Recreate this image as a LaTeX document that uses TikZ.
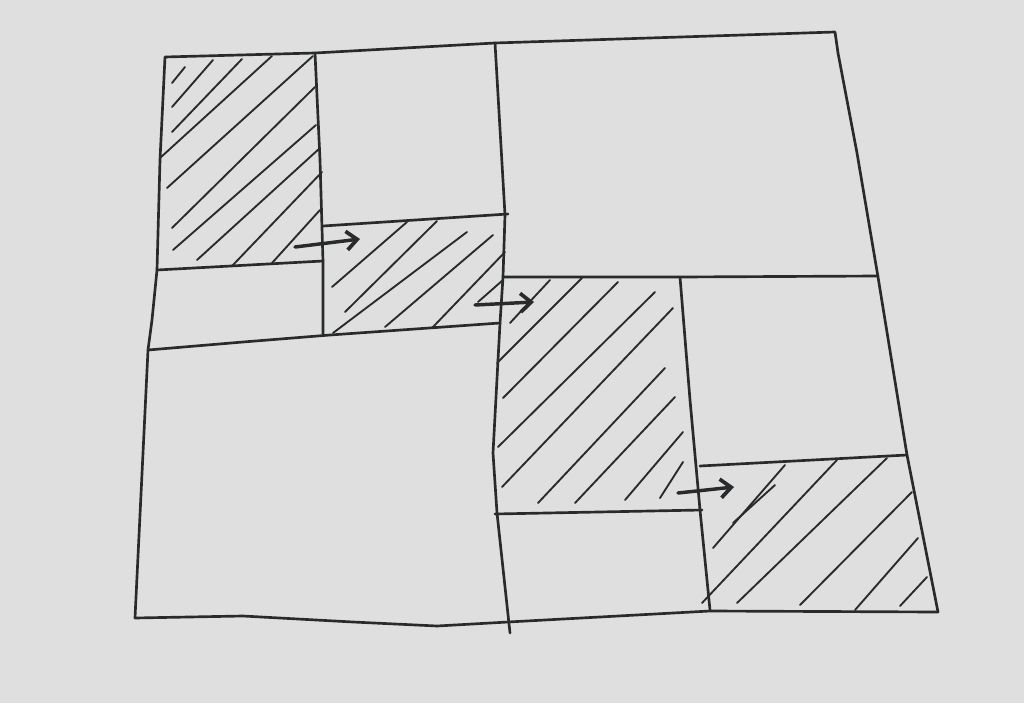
\documentclass[tikz,border=0pt]{standalone}
\usetikzlibrary{arrows.meta}
\definecolor{paper}{RGB}{222,223,222}
\definecolor{pencil}{RGB}{40,42,44}
\tikzset{every picture/.style={line width=0.75pt}}
\tikzset{
  sketch/.style={draw=pencil, line width=2pt, line join=round, line cap=round},
  hatch/.style={draw=pencil, line width=1.4pt, line cap=round},
  shift arrow/.style={draw=pencil, line width=2.6pt, line cap=round, -{Straight Barb[length=8pt,width=14pt,line width=2.8pt]}}
}

\begin{document}
\begin{tikzpicture}[x=0.75pt,y=0.75pt,yscale=-1,xscale=1]
%set diagram size to the photo: 1024 x 703
\fill [paper] (0,0) rectangle (1024,703);
\useasboundingbox (0,0) rectangle (1024,703);
%Shape: Outer frame
\draw [sketch] (165,57) -- (315,53) -- (495,43) -- (835,32) -- (838,53) -- (857,153) -- (878,277) -- (907,455) -- (938,612) -- (710,611) -- (508,622) -- (437,626) -- (353,622) -- (243,616) -- (135,618) -- (148,350) -- (152,320) -- (157,270) -- (160,160) -- cycle ;
%Straight Lines: middle vertical
\draw [sketch] (495,43) -- (505,215) -- (503,277) -- (500,323) -- (493,453) -- (497,513) -- (510,633) ;
%Straight Lines: middle horizontal, left half
\draw [sketch] (148,350) -- (243,342) -- (330,335) -- (500,323) ;
%Straight Lines: middle horizontal, right half
\draw [sketch] (503,277) -- (680,277) -- (878,276) ;
%Straight Lines: upper left quarter
\draw [sketch] (315,53) -- (320,160) -- (323,262) -- (323,334) ;
\draw [sketch] (157,270) -- (323,261) ;
\draw [sketch] (323,226) -- (508,214) ;
%Straight Lines: lower right quarter
\draw [sketch] (680,277) -- (690,400) -- (700,510) -- (710,610) ;
\draw [sketch] (495,514) -- (702,510) ;
\draw [sketch] (700,466) -- (907,455) ;
%Hatching: cell 1
\draw [hatch] (172,83) -- (185,67) ;
\draw [hatch] (172,107) -- (213,60) ;
\draw [hatch] (172,132) -- (242,59) ;
\draw [hatch] (160,158) -- (272,56) ;
\draw [hatch] (167,188) -- (313,56) ;
\draw [hatch] (172,228) -- (315,87) ;
\draw [hatch] (173,250) -- (316,125) ;
\draw [hatch] (197,260) -- (320,148) ;
\draw [hatch] (232,266) -- (322,172) ;
\draw [hatch] (272,263) -- (320,210) ;
%Hatching: cell 2
\draw [hatch] (332,287) -- (407,222) ;
\draw [hatch] (345,312) -- (437,221) ;
\draw [hatch] (333,333) -- (467,232) ;
\draw [hatch] (385,327) -- (493,235) ;
\draw [hatch] (432,328) -- (505,252) ;
\draw [hatch] (478,302) -- (503,280) ;
%Hatching: cell 3
\draw [hatch] (510,323) -- (550,280) ;
\draw [hatch] (497,363) -- (582,278) ;
\draw [hatch] (503,398) -- (618,282) ;
\draw [hatch] (498,447) -- (655,292) ;
\draw [hatch] (502,487) -- (673,308) ;
\draw [hatch] (538,503) -- (665,368) ;
\draw [hatch] (575,503) -- (675,397) ;
\draw [hatch] (625,500) -- (683,432) ;
\draw [hatch] (660,498) -- (683,462) ;
%Hatching: cell 4
\draw [hatch] (713,548) -- (785,465) ;
\draw [hatch] (733,523) -- (775,485) ;
\draw [hatch] (702,603) -- (837,460) ;
\draw [hatch] (737,603) -- (887,458) ;
\draw [hatch] (800,605) -- (912,492) ;
\draw [hatch] (855,610) -- (918,538) ;
\draw [hatch] (900,606) -- (927,577) ;
%Arrows between the hatched cells
\coordinate (shift1s) at (295,247) ;
\coordinate (shift1e) at (360,239) ;
\coordinate (shift2s) at (475,305) ;
\coordinate (shift2e) at (534,302) ;
\coordinate (shift3s) at (678,493) ;
\coordinate (shift3e) at (734,487) ;
\draw [shift arrow] (shift1s) -- (shift1e) ;
\draw [shift arrow] (shift2s) -- (shift2e) ;
\draw [shift arrow] (shift3s) -- (shift3e) ;
\end{tikzpicture}
\end{document}
